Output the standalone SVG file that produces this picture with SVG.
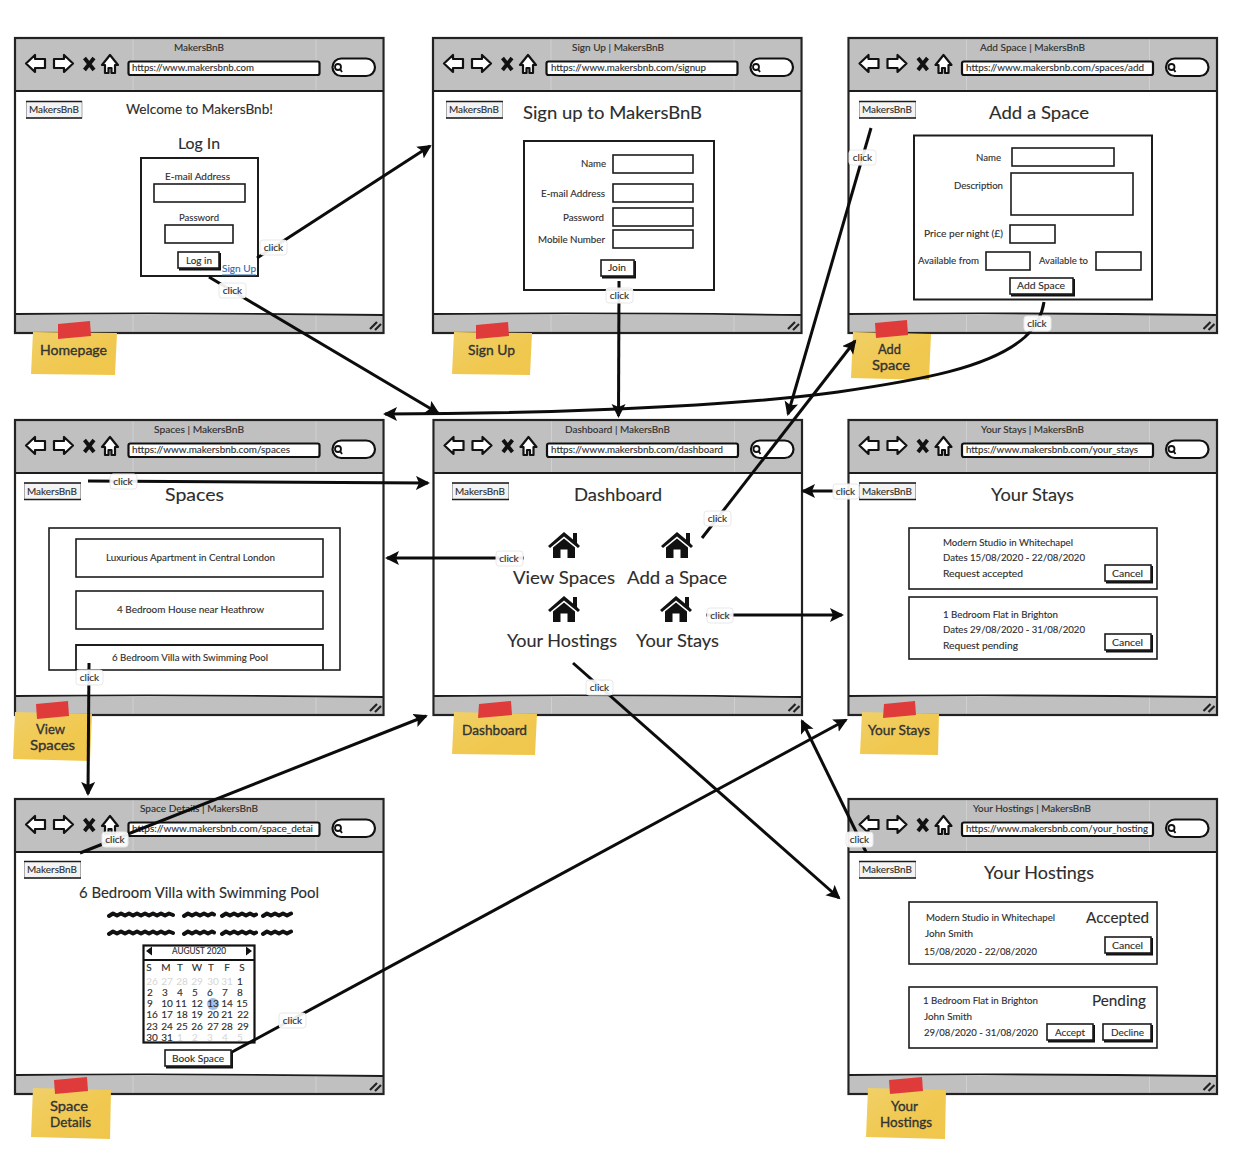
<svg xmlns="http://www.w3.org/2000/svg" width="1238" height="1164" viewBox="0 0 1238 1164">
<style>
text{font-family:"Lato","Noto Sans","Liberation Sans",sans-serif;fill:#2d2d2d;stroke:#2d2d2d;stroke-width:.12px;dominant-baseline:central;font-size:10px;transform:translateY(-.9px)}
.h1{font-size:18px}.h2{font-size:15px}.h3{font-size:14px}
.n{font-size:14px;fill:#333;stroke:#333;stroke-width:.35px}
.b{fill:#fff;stroke:#1c1c1c;stroke-width:2}
.thin{fill:#fff;stroke:#1c1c1c;stroke-width:1.6}
.g{fill:#c0c0c0}
.ln{fill:none;stroke:#1c1c1c;stroke-width:1.8}
.shadow{fill:#111}
.logo{fill:#f3f3f3;stroke:#aaa;stroke-width:1}
.logoln{fill:none;stroke:#1c1c1c;stroke-width:1.6}
.note{fill:url(#ng)}
.tape{fill:#e03b3b}
.ic{fill:#fff;stroke:#111;stroke-width:2.200;stroke-linejoin:round}
.con{fill:none;stroke:#0c0c0c;stroke-width:3;marker-end:url(#ah)}
.lab{fill:#fff;fill-opacity:.92;stroke:#e8e8e8;stroke-width:1}
.scr{fill:none;stroke:#111;stroke-width:4;stroke-linecap:round;stroke-linejoin:round}
.lt{fill:#d5d5d5;stroke:none}
.link{fill:#2a6cb0;stroke:#2a6cb0}
.seam{stroke:#fff;stroke-opacity:.25;stroke-width:1;fill:none}
</style>
<defs>
<linearGradient id="ng" x1="0" y1="0" x2="1" y2="1"><stop offset="0" stop-color="#f0d068"/><stop offset=".6" stop-color="#f1c84f"/><stop offset="1" stop-color="#f0c64c"/></linearGradient>
<marker id="ah" markerUnits="userSpaceOnUse" markerWidth="16" markerHeight="16" refX="12" refY="7" orient="auto"><path d="M0 0 L14 7 L0 14 L3 7 Z" fill="#0c0c0c"/></marker>
<g id="chrome">
<rect x="0" y="0" width="368.500" height="295" fill="#fff"/>
<rect class="g" x="1" y="1" width="366.500" height="52"/>
<rect class="g" x="1" y="277" width="366.500" height="17"/>
<path class="seam" d="M118 1V53 M301 1V53 M118 277V294 M301 277V294"/>
<path class="ln" d="M0 53 H368.500 M0 276 C120 275 250 275.500 368.500 277"/>
<rect x="0" y="0" width="368.500" height="295" fill="none" stroke="#222" stroke-width="2.200"/>
<path class="ic" d="M11 25.500 L20 17 V21 H30 V30 H20 V34 Z"/>
<path class="ic" d="M58 25.500 L49 17 V21 H39 V30 H49 V34 Z"/>
<path d="M69.500 20 L79 32 M79 20 L69.500 32" stroke="#111" stroke-width="3.800" fill="none"/>
<path class="ic" d="M95 17 L103 27 H100 V35 H96.500 V30 H93.500 V35 H90 V27 H87 Z"/>
<rect class="ic" x="113.500" y="23.500" width="191" height="13.500" rx="2"/>
<rect class="ic" x="317.500" y="20.500" width="42.500" height="17.500" rx="8.800"/>
<circle cx="323" cy="29" r="3" fill="none" stroke="#111" stroke-width="1.800"/>
<path d="M325 31 L327 34" stroke="#111" stroke-width="1.800"/>
<path d="M355 291 L362 284 M360 292 L366 286" stroke="#222" stroke-width="2.200" fill="none"/>
</g>
<g id="house" fill="#111">
<path d="M16 0 L25 7.500 V1 H29 V11 L32 14 L30 16 L16 4.500 L2 16 L0 14 Z"/>
<path d="M5 15.500 L16 6.500 L27 15.500 V26 H19.500 V17.500 H12.500 V26 H5 Z"/>
</g>
<g id="scribble"><path class="scr" d="M109 916 l4 -2.500 l4 2 l4 -2 l4 2 l4 -2 l4 2 l4 -2 l4 2 l4 -2 l4 2 l4 -2 l4 2 l4 -2 l4 2 l4 -2 l4 1.500 M184 916 l4 -2.500 l4 2 l4 -2 l4 2 l4 -2 l4 2 l4 -2 l2 1 M222 916 l4 -2.500 l4 2 l4 -2 l4 2 l4 -2 l4 2 l4 -2 l4 2 l2 -1 M263 916 l4 -2.500 l4 2 l4 -2 l4 2 l4 -2 l4 2 l4 -2"/></g>
</defs>

<g id="window-homepage">
<use href="#chrome" x="15" y="38"/>
<text x="174" y="48" textLength="50" lengthAdjust="spacingAndGlyphs">MakersBnB</text>
<text x="132" y="68" textLength="122" lengthAdjust="spacingAndGlyphs">https://www.makersbnb.com</text>
<rect class="logo" x="26.500" y="101.500" width="55.500" height="16.500"/><path class="logoln" d="M26 101.500 H82 M26 118 H82"/>
<text x="29" y="110" textLength="50" lengthAdjust="spacingAndGlyphs">MakersBnB</text>
<text class="h3" x="126" y="109" textLength="147" lengthAdjust="spacingAndGlyphs">Welcome to MakersBnb!</text>
<text class="h2" x="178" y="144" textLength="42" lengthAdjust="spacingAndGlyphs">Log In</text>
<rect class="b" x="141" y="158" width="117" height="118"/>
<text x="165" y="177" textLength="65" lengthAdjust="spacingAndGlyphs">E-mail Address</text>
<rect class="thin" x="154" y="184" width="91" height="18"/>
<text x="179" y="218" textLength="40" lengthAdjust="spacingAndGlyphs">Password</text>
<rect class="thin" x="165" y="225" width="68" height="18"/>
<rect class="shadow" x="179" y="253" width="42" height="17.500"/>
<rect class="thin" x="178" y="252" width="41" height="16"/>
<text x="186" y="261" textLength="26" lengthAdjust="spacingAndGlyphs">Log in</text>
<text class="link" x="222" y="269" textLength="34" lengthAdjust="spacingAndGlyphs">Sign Up</text>
<path d="M222 275 H256" stroke="#2a6cb0" stroke-width="1"/>
</g>

<g id="window-signup">
<use href="#chrome" x="433" y="38"/>
<text x="572" y="48" textLength="92" lengthAdjust="spacingAndGlyphs">Sign Up | MakersBnB</text>
<text x="551" y="68" textLength="155" lengthAdjust="spacingAndGlyphs">https://www.makersbnb.com/signup</text>
<rect class="logo" x="446.500" y="101.500" width="56" height="16.500"/><path class="logoln" d="M446 101.500 H503 M446 118 H503"/>
<text x="449" y="110" textLength="50" lengthAdjust="spacingAndGlyphs">MakersBnB</text>
<text class="h1" x="523" y="113" textLength="179" lengthAdjust="spacingAndGlyphs">Sign up to MakersBnB</text>
<rect class="b" x="524" y="141" width="190" height="149"/>
<text x="581" y="164" textLength="25" lengthAdjust="spacingAndGlyphs">Name</text>
<rect class="thin" x="613" y="155" width="80" height="18"/>
<text x="541" y="193.500" textLength="64" lengthAdjust="spacingAndGlyphs">E-mail Address</text>
<rect class="thin" x="613" y="184" width="80" height="18"/>
<text x="563" y="217.500" textLength="41" lengthAdjust="spacingAndGlyphs">Password</text>
<rect class="thin" x="613" y="208" width="80" height="18"/>
<text x="538" y="240" textLength="67" lengthAdjust="spacingAndGlyphs">Mobile Number</text>
<rect class="thin" x="613" y="230" width="80" height="18"/>
<rect class="shadow" x="602" y="261" width="34" height="17.500"/>
<rect class="thin" x="601" y="260" width="33" height="16"/>
<text x="608" y="268" textLength="18" lengthAdjust="spacingAndGlyphs">Join</text>
</g>

<g id="window-add-space">
<use href="#chrome" x="848.500" y="38"/>
<text x="980" y="48" textLength="105" lengthAdjust="spacingAndGlyphs">Add Space | MakersBnB</text>
<text x="966" y="68" textLength="178" lengthAdjust="spacingAndGlyphs">https://www.makersbnb.com/spaces/add</text>
<rect class="logo" x="859.500" y="101.500" width="56" height="16.500"/><path class="logoln" d="M859 101.500 H916 M859 118 H916"/>
<text x="862" y="110" textLength="50" lengthAdjust="spacingAndGlyphs">MakersBnB</text>
<text class="h1" x="989" y="113" textLength="100" lengthAdjust="spacingAndGlyphs">Add a Space</text>
<rect class="b" x="914" y="135.500" width="238" height="164"/>
<text x="976" y="158" textLength="25" lengthAdjust="spacingAndGlyphs">Name</text>
<rect class="thin" x="1012" y="148" width="102" height="18"/>
<text x="954" y="186" textLength="49" lengthAdjust="spacingAndGlyphs">Description</text>
<rect class="thin" x="1011" y="173" width="122" height="42"/>
<text x="924" y="234" textLength="79" lengthAdjust="spacingAndGlyphs">Price per night (£)</text>
<rect class="thin" x="1010" y="225" width="45" height="18"/>
<text x="918" y="261" textLength="61" lengthAdjust="spacingAndGlyphs">Available from</text>
<rect class="thin" x="986" y="252" width="44" height="18"/>
<text x="1039" y="261" textLength="49" lengthAdjust="spacingAndGlyphs">Available to</text>
<rect class="thin" x="1096" y="252" width="45" height="18"/>
<rect class="shadow" x="1011" y="279" width="64" height="17.500"/>
<rect class="thin" x="1010" y="278" width="63" height="16"/>
<text x="1017" y="286" textLength="48" lengthAdjust="spacingAndGlyphs">Add Space</text>
</g>

<g id="window-spaces">
<use href="#chrome" x="15" y="420"/>
<text x="154" y="430" textLength="90" lengthAdjust="spacingAndGlyphs">Spaces | MakersBnB</text>
<text x="132" y="450" textLength="158" lengthAdjust="spacingAndGlyphs">https://www.makersbnb.com/spaces</text>
<rect class="logo" x="24.500" y="483" width="56" height="16.500"/><path class="logoln" d="M24 483 H81 M24 499.500 H81"/>
<text x="27" y="492" textLength="50" lengthAdjust="spacingAndGlyphs">MakersBnB</text>
<text class="h1" x="165" y="495" textLength="59" lengthAdjust="spacingAndGlyphs">Spaces</text>
<rect class="thin" x="49" y="528" width="291" height="142"/>
<rect class="thin" x="76" y="539" width="247" height="38"/>
<text x="106" y="558" textLength="169" lengthAdjust="spacingAndGlyphs">Luxurious Apartment in Central London</text>
<rect class="thin" x="76" y="591" width="247" height="38"/>
<text x="117" y="610" textLength="147" lengthAdjust="spacingAndGlyphs">4 Bedroom House near Heathrow</text>
<path class="ln" d="M76 670 V645 H323 V670"/>
<text x="112" y="658" textLength="156" lengthAdjust="spacingAndGlyphs">6 Bedroom Villa with Swimming Pool</text>
</g>

<g id="window-dashboard">
<use href="#chrome" x="433.500" y="420"/>
<text x="565" y="430" textLength="105" lengthAdjust="spacingAndGlyphs">Dashboard | MakersBnB</text>
<text x="551" y="450" textLength="172" lengthAdjust="spacingAndGlyphs">https://www.makersbnb.com/dashboard</text>
<rect class="logo" x="452.500" y="483" width="56" height="16.500"/><path class="logoln" d="M452 483 H509 M452 499.500 H509"/>
<text x="455" y="492" textLength="50" lengthAdjust="spacingAndGlyphs">MakersBnB</text>
<text class="h1" x="574" y="495" textLength="88" lengthAdjust="spacingAndGlyphs">Dashboard</text>
<use href="#house" x="548" y="532"/>
<use href="#house" x="661" y="532"/>
<use href="#house" x="548" y="596"/>
<use href="#house" x="660" y="596"/>
<text class="h1" x="513" y="578" textLength="102" lengthAdjust="spacingAndGlyphs">View Spaces</text>
<text class="h1" x="627" y="578" textLength="100" lengthAdjust="spacingAndGlyphs">Add a Space</text>
<text class="h1" x="507" y="641" textLength="110" lengthAdjust="spacingAndGlyphs">Your Hostings</text>
<text class="h1" x="636" y="641" textLength="83" lengthAdjust="spacingAndGlyphs">Your Stays</text>
</g>

<g id="window-your-stays">
<use href="#chrome" x="848.500" y="420"/>
<text x="981" y="430" textLength="103" lengthAdjust="spacingAndGlyphs">Your Stays | MakersBnB</text>
<text x="966" y="450" textLength="172" lengthAdjust="spacingAndGlyphs">https://www.makersbnb.com/your_stays</text>
<rect class="logo" x="859.500" y="483" width="56" height="16.500"/><path class="logoln" d="M859 483 H916 M859 499.500 H916"/>
<text x="862" y="492" textLength="50" lengthAdjust="spacingAndGlyphs">MakersBnB</text>
<text class="h1" x="991" y="495" textLength="83" lengthAdjust="spacingAndGlyphs">Your Stays</text>
<rect class="thin" x="909" y="528" width="248" height="61"/>
<text x="943" y="543" textLength="130" lengthAdjust="spacingAndGlyphs">Modern Studio in Whitechapel</text>
<text x="943" y="558" textLength="142" lengthAdjust="spacingAndGlyphs">Dates 15/08/2020 - 22/08/2020</text>
<text x="943" y="573.500" textLength="80" lengthAdjust="spacingAndGlyphs">Request accepted</text>
<rect class="shadow" x="1106" y="566" width="47" height="17.500"/>
<rect class="thin" x="1105" y="565" width="46" height="16"/>
<text x="1112" y="573.500" textLength="31" lengthAdjust="spacingAndGlyphs">Cancel</text>
<rect class="thin" x="909" y="597" width="248" height="62"/>
<text x="943" y="615" textLength="115" lengthAdjust="spacingAndGlyphs">1 Bedroom Flat in Brighton</text>
<text x="943" y="630" textLength="142" lengthAdjust="spacingAndGlyphs">Dates 29/08/2020 - 31/08/2020</text>
<text x="943" y="646" textLength="75" lengthAdjust="spacingAndGlyphs">Request pending</text>
<rect class="shadow" x="1106" y="635" width="47" height="17.500"/>
<rect class="thin" x="1105" y="634" width="46" height="16"/>
<text x="1112" y="642.500" textLength="31" lengthAdjust="spacingAndGlyphs">Cancel</text>
</g>

<g id="window-space-details">
<use href="#chrome" x="15" y="799"/>
<text x="140" y="808.500" textLength="118" lengthAdjust="spacingAndGlyphs">Space Details | MakersBnB</text>
<text x="132" y="829" textLength="181" lengthAdjust="spacingAndGlyphs">https://www.makersbnb.com/space_detai</text>
<rect class="logo" x="24.500" y="861.500" width="56" height="16.500"/><path class="logoln" d="M24 861.500 H81 M24 878 H81"/>
<text x="27" y="869.500" textLength="50" lengthAdjust="spacingAndGlyphs">MakersBnB</text>
<text class="h2" x="79" y="893" textLength="240" lengthAdjust="spacingAndGlyphs">6 Bedroom Villa with Swimming Pool</text>
<use href="#scribble"/>
<use href="#scribble" y="18"/>
<rect x="143.500" y="945.500" width="111" height="97" fill="#fff" stroke="#111" stroke-width="2.200"/>
<path d="M144 960 H254" stroke="#111" stroke-width="1.800"/>
<path d="M146 951 L152 946.500 V955.500 Z M252 951 L246 946.500 V955.500 Z" fill="#111"/>
<text x="172" y="951.500" textLength="54" lengthAdjust="spacingAndGlyphs" style="font-size:8.500px">AUGUST 2020</text>
<g text-anchor="middle" style="font-size:7.800px">
<text x="149" y="968">S</text><text x="166" y="968">M</text><text x="180" y="968">T</text><text x="197" y="968">W</text><text x="211" y="968">T</text><text x="227" y="968">F</text><text x="242" y="968">S</text>
<circle cx="213" cy="1004" r="6" fill="#9dc0ee"/>
<text class="lt" x="152" y="982">26</text><text class="lt" x="167" y="982">27</text><text class="lt" x="182" y="982">28</text><text class="lt" x="197" y="982">29</text><text class="lt" x="213" y="982">30</text><text class="lt" x="227" y="982">31</text><text x="240" y="982">1</text>
<text x="150" y="993">2</text><text x="165" y="993">3</text><text x="180" y="993">4</text><text x="195" y="993">5</text><text x="210" y="993">6</text><text x="225" y="993">7</text><text x="240" y="993">8</text>
<text x="150" y="1004">9</text><text x="167" y="1004">10</text><text x="181" y="1004">11</text><text x="197" y="1004">12</text><text x="213" y="1004">13</text><text x="227" y="1004">14</text><text x="242" y="1004">15</text>
<text x="152" y="1015">16</text><text x="167" y="1015">17</text><text x="182" y="1015">18</text><text x="197" y="1015">19</text><text x="213" y="1015">20</text><text x="227" y="1015">21</text><text x="243" y="1015">22</text>
<text x="152" y="1026.500">23</text><text x="167" y="1026.500">24</text><text x="182" y="1026.500">25</text><text x="197" y="1026.500">26</text><text x="213" y="1026.500">27</text><text x="227" y="1026.500">28</text><text x="243" y="1026.500">29</text>
<text x="152" y="1037.500">30</text><text x="167" y="1037.500">31</text><text class="lt" x="180" y="1037.500">1</text><text class="lt" x="195" y="1037.500">2</text><text class="lt" x="210" y="1037.500">3</text><text class="lt" x="225" y="1037.500">4</text><text class="lt" x="240" y="1037.500">5</text>
</g>
<rect class="shadow" x="166" y="1051" width="67" height="17.500"/>
<rect class="thin" x="165" y="1050" width="66" height="16"/>
<text x="172" y="1058.500" textLength="52" lengthAdjust="spacingAndGlyphs">Book Space</text>
</g>

<g id="window-your-hostings">
<use href="#chrome" x="848.500" y="799"/>
<text x="973" y="808.500" textLength="118" lengthAdjust="spacingAndGlyphs">Your Hostings | MakersBnB</text>
<text x="966" y="829" textLength="182" lengthAdjust="spacingAndGlyphs">https://www.makersbnb.com/your_hosting</text>
<rect class="logo" x="859.500" y="861.500" width="56" height="16.500"/><path class="logoln" d="M859 861.500 H916 M859 878 H916"/>
<text x="862" y="869.500" textLength="50" lengthAdjust="spacingAndGlyphs">MakersBnB</text>
<text class="h1" x="984" y="873" textLength="110" lengthAdjust="spacingAndGlyphs">Your Hostings</text>
<rect class="thin" x="909" y="902" width="248" height="62"/>
<text x="926" y="918" textLength="129" lengthAdjust="spacingAndGlyphs">Modern Studio in Whitechapel</text>
<text class="h2" x="1086" y="918" textLength="63" lengthAdjust="spacingAndGlyphs">Accepted</text>
<text x="925" y="934" textLength="48" lengthAdjust="spacingAndGlyphs">John Smith</text>
<text x="924" y="951.500" textLength="113" lengthAdjust="spacingAndGlyphs">15/08/2020 - 22/08/2020</text>
<rect class="shadow" x="1106" y="938" width="47" height="17.500"/>
<rect class="thin" x="1105" y="937" width="46" height="16"/>
<text x="1112" y="945.500" textLength="31" lengthAdjust="spacingAndGlyphs">Cancel</text>
<rect class="thin" x="909" y="987" width="248" height="61"/>
<text x="923" y="1001" textLength="115" lengthAdjust="spacingAndGlyphs">1 Bedroom Flat in Brighton</text>
<text class="h2" x="1092" y="1001" textLength="54" lengthAdjust="spacingAndGlyphs">Pending</text>
<text x="924" y="1017" textLength="48" lengthAdjust="spacingAndGlyphs">John Smith</text>
<text x="924" y="1032.500" textLength="114" lengthAdjust="spacingAndGlyphs">29/08/2020 - 31/08/2020</text>
<rect class="shadow" x="1048" y="1025" width="47" height="17.500"/>
<rect class="thin" x="1047" y="1024" width="46" height="16"/>
<text x="1055" y="1032.500" textLength="30" lengthAdjust="spacingAndGlyphs">Accept</text>
<rect class="shadow" x="1104" y="1025" width="49" height="17.500"/>
<rect class="thin" x="1103" y="1024" width="48" height="16"/>
<text x="1111" y="1032.500" textLength="33" lengthAdjust="spacingAndGlyphs">Decline</text>
</g>

<g id="note-homepage"><polygon class="note" points="33,332 117,333 115,375 31,374"/><polygon class="tape" points="58,324 90,321 91,336 58,339"/><text class="n" x="40" y="350" textLength="67" lengthAdjust="spacingAndGlyphs">Homepage</text></g>
<g id="note-signup"><polygon class="note" points="454,332 532,333 530,375 452,374"/><polygon class="tape" points="476,325 508,322 509,336 476,339"/><text class="n" x="468" y="350" textLength="47" lengthAdjust="spacingAndGlyphs">Sign Up</text></g>
<g id="note-add-space"><polygon class="note" points="853,332 931,334 929,380 851,378"/><polygon class="tape" points="875,323 907,320 908,335 876,338"/><text class="n" x="878" y="349" textLength="23" lengthAdjust="spacingAndGlyphs">Add</text><text class="n" x="872" y="365" textLength="38" lengthAdjust="spacingAndGlyphs">Space</text></g>
<g id="note-view-spaces"><polygon class="note" points="15,712 92,714 90,761 13,759"/><polygon class="tape" points="36,704 68,701 69,716 37,719"/><text class="n" x="36" y="729" textLength="29" lengthAdjust="spacingAndGlyphs">View</text><text class="n" x="30" y="745" textLength="45" lengthAdjust="spacingAndGlyphs">Spaces</text></g>
<g id="note-dashboard"><polygon class="note" points="454,712 537,714 535,755 452,754"/><polygon class="tape" points="479,704 511,701 512,715 478,718"/><text class="n" x="462" y="730" textLength="65" lengthAdjust="spacingAndGlyphs">Dashboard</text></g>
<g id="note-your-stays"><polygon class="note" points="862,712 939,714 938,755 860,754"/><polygon class="tape" points="884,704 915,701 916,715 883,718"/><text class="n" x="868" y="730" textLength="62" lengthAdjust="spacingAndGlyphs">Your Stays</text></g>
<g id="note-space-details"><polygon class="note" points="33,1088 111,1090 110,1139 31,1137"/><polygon class="tape" points="54,1080 87,1077 88,1091 55,1094"/><text class="n" x="50" y="1106" textLength="38" lengthAdjust="spacingAndGlyphs">Space</text><text class="n" x="50" y="1122" textLength="41" lengthAdjust="spacingAndGlyphs">Details</text></g>
<g id="note-your-hostings"><polygon class="note" points="868,1088 946,1090 945,1139 866,1137"/><polygon class="tape" points="889,1080 922,1077 923,1091 890,1094"/><text class="n" x="891" y="1106" textLength="27" lengthAdjust="spacingAndGlyphs">Your</text><text class="n" x="880" y="1122" textLength="52" lengthAdjust="spacingAndGlyphs">Hostings</text></g>

<g id="connectors">
<path class="con" d="M257 258 L430 146"/>
<path class="con" d="M209 277 L438 413"/>
<path class="con" d="M619 281 L618.500 416"/>
<path class="con" d="M1044 302 Q1041 322 1025 337 C990 368 920 380 838 392 C720 408 520 414 385 414"/>
<path class="con" d="M871 128 L788 414"/>
<path class="con" d="M702 538 L855 341"/>
<path class="con" d="M88 481 L428 483"/>
<path class="con" d="M524 558 L387 558"/>
<path class="con" d="M706 615 L842 615"/>
<path class="con" d="M850 491 L803 491"/>
<path class="con" d="M573 663 L839 898"/>
<path class="con" d="M89 663 L88 794"/>
<path class="con" d="M80 853 L426 716"/>
<path class="con" d="M232 1052 L846 720"/>
<path class="con" d="M866 852 L802 721"/>
<g text-anchor="middle">
<rect class="lab" x="260" y="240" width="27" height="15" rx="3"/><text x="273.500" y="247.500">click</text>
<rect class="lab" x="219" y="283" width="27" height="15" rx="3"/><text x="232.500" y="290.500">click</text>
<rect class="lab" x="606" y="288" width="27" height="15" rx="3"/><text x="619.500" y="295.500">click</text>
<rect class="lab" x="1024" y="316" width="27" height="15" rx="3"/><text x="1037" y="323.500">click</text>
<rect class="lab" x="849" y="150" width="27" height="15" rx="3"/><text x="862.500" y="157.500">click</text>
<rect class="lab" x="704" y="511" width="27" height="15" rx="3"/><text x="717.500" y="518.500">click</text>
<rect class="lab" x="110" y="474" width="27" height="15" rx="3"/><text x="123" y="481.500">click</text>
<rect class="lab" x="496" y="551" width="27" height="15" rx="3"/><text x="509" y="558.500">click</text>
<rect class="lab" x="707" y="608" width="26" height="15" rx="3"/><text x="720" y="615.500">click</text>
<rect class="lab" x="833" y="484" width="26" height="15" rx="3"/><text x="845.500" y="491.500">click</text>
<rect class="lab" x="586" y="680" width="27" height="15" rx="3"/><text x="599.500" y="687.500">click</text>
<rect class="lab" x="76" y="670" width="27" height="15" rx="3"/><text x="89.500" y="677.500">click</text>
<rect class="lab" x="102" y="832" width="26" height="15" rx="3"/><text x="115" y="839.500">click</text>
<rect class="lab" x="279" y="1013" width="27" height="15" rx="3"/><text x="292.500" y="1020.500">click</text>
<rect class="lab" x="846" y="832" width="27" height="15" rx="3"/><text x="859.500" y="839.500">click</text>
</g>
</g>
</svg>
